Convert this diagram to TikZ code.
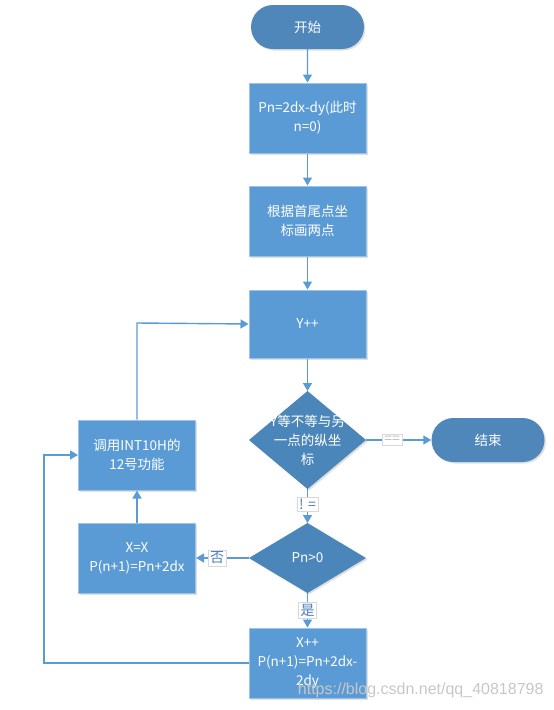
\documentclass[tikz,border=0pt]{standalone}
\usepackage{fontspec}
\setmainfont{Noto Sans CJK SC}
\usetikzlibrary{arrows.meta,shapes.geometric,shapes.misc,shadows}
\definecolor{boxfill}{HTML}{5B9BD5}
\definecolor{boxedge}{HTML}{9DC3E6}
\definecolor{termfill}{HTML}{4F87BB}
\definecolor{diafill}{HTML}{4B86BA}
\definecolor{linec}{HTML}{5B9BD5}
\definecolor{labc}{HTML}{4A7EBB}
\tikzset{
  base/.style={text=white, font=\fontsize{13.5}{19}\selectfont, align=center, inner sep=2pt,
    drop shadow={shadow xshift=1.5pt, shadow yshift=-1.5pt, opacity=0.25}},
  procbox/.style={base, rectangle, fill=boxfill, draw=boxedge, line width=1pt,
    minimum width=117pt, minimum height=70pt, text width=112pt},
  term/.style={base, rounded rectangle, fill=termfill, draw=none,
    minimum width=117pt, minimum height=44pt},
  conn/.style={draw=linec, line width=1.4pt, -{Triangle[length=8pt,width=9pt]}},
  lab/.style={fill=white, draw=black!15, line width=0.5pt, text=labc, inner sep=2pt,
    font=\fontsize{14}{16}\selectfont}
}
\begin{document}
\begin{tikzpicture}[x=1pt,y=-1pt]
\useasboundingbox (0,0) rectangle (554,710);
\node[term] (start) at (307.5,27) {开始};
\node[procbox] (p1) at (307.5,118) {Pn=2dx-dy(此时\\n=0)};
\node[procbox] (p2) at (307.5,221) {根据首尾点坐\\标画两点};
\node[procbox, minimum height=68pt] (p3) at (307.5,324) {Y++};
\path[fill=diafill, drop shadow={shadow xshift=1.5pt, shadow yshift=-1.5pt, opacity=0.25}]
  (307.5,391) -- (366,440) -- (307.5,489) -- (249,440) -- cycle;
\coordinate (d1t) at (307.5,391);
\coordinate (d1r) at (366,440);
\coordinate (d1b) at (307.5,489);
\node[text=white, font=\fontsize{13.5}{19}\selectfont, align=center] (d1) at (307.5,440) {Y等不等与另\\一点的纵坐\\标};
\node[term] (end) at (488,440) {结束};
\path[fill=diafill, drop shadow={shadow xshift=1.5pt, shadow yshift=-1.5pt, opacity=0.25}]
  (307.5,523) -- (366,558) -- (307.5,593) -- (249,558) -- cycle;
\coordinate (d2t) at (307.5,523);
\coordinate (d2l) at (249,558);
\coordinate (d2b) at (307.5,593);
\node[text=white, font=\fontsize{13.5}{19}\selectfont] (d2) at (307.5,558) {Pn>0};
\node[procbox] (xx) at (137,558) {X=X\\P(n+1)=Pn+2dx};
\node[procbox] (call) at (137,455) {调用INT10H的\\12号功能};
\node[procbox] (xp) at (307.5,663) {X++\\P(n+1)=Pn+2dx-\\2dy};
\coordinate (lp1) at (44,663);
\coordinate (lp2) at (44,455);
\coordinate (up1) at (137,323);

\draw[conn] (start) -- (p1);
\draw[conn] (p1) -- (p2);
\draw[conn] (p2) -- (p3);
\draw[conn] (p3) -- (d1t);
\draw[conn] (d1r) -- node[lab, text=black!25, pos=0.4] (leq) {==} (end);
\draw[conn] (d1b) -- node[lab, pos=0.45] (lne) {!\,\,=} (d2t);
\draw[conn] (d2l) -- node[lab, pos=0.6] (lno) {否} (xx);
\draw[conn] (d2b) -- node[lab, pos=0.5] (lyes) {是} (xp);
\draw[conn] (xx) -- (call);
\draw[conn] (call.north) -- (up1) -- (p3.west);
\draw[conn] (xp.west) -- (lp1) -- (lp2) -- (call.west);
\node[text=black!22, font=\fontsize{16}{16}\fontspec{Liberation Sans}, anchor=east] (wm) at (547,690) {https://blog.csdn.net/qq\_40818798};
\end{tikzpicture}
\end{document}
